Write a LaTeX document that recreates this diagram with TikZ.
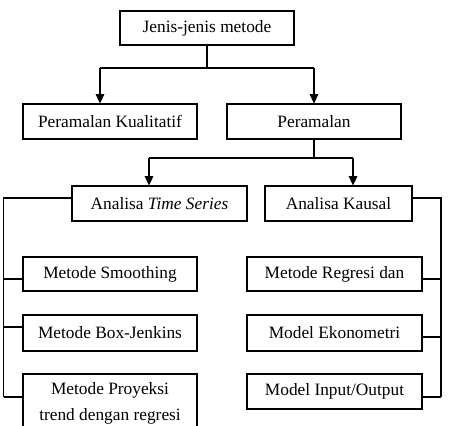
\documentclass[tikz,border=0pt]{standalone}
\usepackage{fontspec}
\setmainfont{Liberation Serif}
\usetikzlibrary{arrows.meta}
\begin{document}
\begin{tikzpicture}[x=0.75pt,y=-0.75pt,
  box/.style={draw, line width=0.8pt, inner sep=0pt, align=center,
    font=\fontsize{13}{19.5}\selectfont},
  link/.style={line width=0.8pt},
  arr/.style={line width=0.8pt, -{Triangle[width=6.5pt,length=7pt]}}]
\useasboundingbox (0,0) rectangle (452,425);
\clip (0,0) rectangle (452,425);
\fill[white] (0,0) rectangle (452,425);
% boxes
\node[box, minimum width=130.5pt, minimum height=25.5pt] (top) at (207,28) {Jenis-jenis metode};
\node[box, minimum width=130.5pt, minimum height=26.25pt] (pk) at (110,121.5) {Peramalan Kualitatif};
\node[box, minimum width=130.5pt, minimum height=26.25pt] (per) at (314,121.5) {Peramalan};
\node[box, minimum width=131.25pt, minimum height=26.25pt] (ts) at (159.5,203.5) {Analisa \textit{Time Series}};
\node[box, minimum width=110.25pt, minimum height=26.25pt] (ka) at (338.5,203.5) {Analisa Kausal};
\node[box, minimum width=130.5pt, minimum height=25.5pt] (sm) at (110,274) {Metode Smoothing};
\node[box, minimum width=131.25pt, minimum height=25.5pt] (rg) at (334.5,274) {Metode Regresi dan};
\node[box, minimum width=130.5pt, minimum height=27pt] (bj) at (110,333) {Metode Box-Jenkins};
\node[box, minimum width=131.25pt, minimum height=27pt] (ek) at (334.5,333) {Model Ekonometri};
\node[box, minimum width=130.5pt, minimum height=43.5pt] (pr) at (110,403) {Metode Proyeksi\\trend dengan regresi};
\node[box, minimum width=131.25pt, minimum height=26.25pt] (io) at (334.5,391.5) {Model Input/Output};
% first split
\coordinate (j1) at (207,68);
\coordinate (j1l) at (100,68);
\coordinate (j1r) at (314,68);
\draw[link] (top.south) -- (j1);
\draw[link] (j1l) -- (j1r);
\draw[arr] (j1l) -- (j1l |- pk.north);
\draw[arr] (j1r) -- (j1r |- per.north);
% second split
\coordinate (j2) at (314,158);
\coordinate (j2l) at (149,158);
\coordinate (j2r) at (353,158);
\draw[link] (per.south) -- (j2);
\draw[link] (j2l) -- (j2r);
\draw[arr] (j2l) -- (j2l |- ts.north);
\draw[arr] (j2r) -- (j2r |- ka.north);
% left bracket
\coordinate (lt) at (3.5,198);
\coordinate (l1) at (3.5,279);
\coordinate (l2) at (3.5,327);
\coordinate (l3) at (3.5,397);
\draw[link] (ts.west |- lt) -- (lt) -- (l3);
\draw[link] (l1) -- (sm.west |- l1);
\draw[link] (l2) -- (bj.west |- l2);
\draw[link] (l3) -- (pr.west |- l3);
% right bracket
\coordinate (rt) at (441,198);
\coordinate (r1) at (441,279);
\coordinate (r2) at (441,337);
\coordinate (r3) at (441,397);
\draw[link] (ka.east |- rt) -- (rt) -- (r3);
\draw[link] (r1) -- (rg.east |- r1);
\draw[link] (r2) -- (ek.east |- r2);
\draw[link] (r3) -- (io.east |- r3);
\end{tikzpicture}
\end{document}
